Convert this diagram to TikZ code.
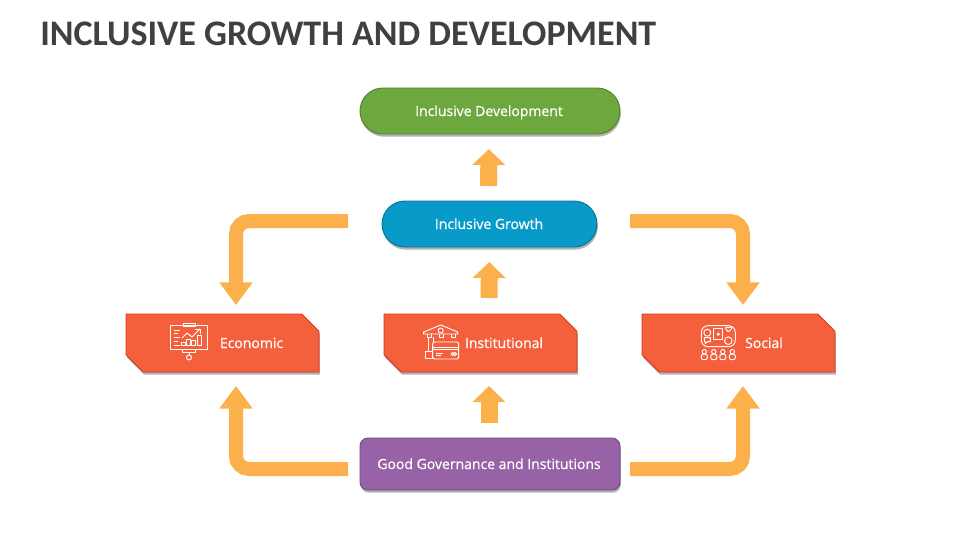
\documentclass[tikz,border=0pt]{standalone}
\usepackage{fontspec}
\setmainfont{Open Sans}
\newfontfamily\titlefont{Carlito}
\newfontfamily\labelfont[FakeBold=0.7]{Open Sans}
\usetikzlibrary{arrows.meta,shapes.misc,shadows}
\definecolor{arroworange}{HTML}{FBB04B}
\definecolor{devgreen}{HTML}{6DA83F}
\definecolor{growthblue}{HTML}{089BC9}
\definecolor{pillarred}{HTML}{F4603C}
\definecolor{pillaredge}{HTML}{D9381E}
\definecolor{govpurple}{HTML}{9763A6}
\tikzset{
    softshadow/.style={drop shadow={shadow xshift=0.6pt, shadow yshift=-2pt, opacity=0.3, fill=black}},
    pillbox/.style={rounded rectangle, draw=#1!75!black, fill=#1, line width=0.7pt, softshadow, minimum height=34.5pt, inner sep=0pt, outer sep=0pt},
    pillarbox/.style={rectangle, minimum width=144.75pt, minimum height=43.5pt, inner sep=0pt, outer sep=0pt},
    pillarface/.style={draw=pillaredge, fill=pillarred, line width=0.7pt, line join=miter, softshadow},
    govbox/.style={rectangle, rounded corners=6pt, draw=govpurple!75!black, fill=govpurple, line width=0.7pt, softshadow, minimum width=195pt, minimum height=39pt, inner sep=0pt, outer sep=0pt},
    boxtext/.style={text=white, font=\labelfont\fontsize{10.5}{12}\selectfont, inner sep=0pt, text height=8pt, text depth=2pt},
    upshaft/.style={draw=arroworange, line width=12.75pt, -{Triangle[width=24pt,length=12pt]}},
    bendshaft/.style={draw=arroworange, line width=10.5pt, rounded corners=9.75pt, -{Triangle[width=24pt,length=17pt]}},
    iconline/.style={draw=white, line width=0.7pt, line join=round},
}
\newcommand{\pillarshape}[1]{
    \path[pillarface] (#1.north west) -- ([xshift=-13pt]#1.north east) -- ([yshift=-13pt]#1.north east)
        -- (#1.south east) -- ([xshift=13pt]#1.south west) -- ([yshift=13pt]#1.south west) -- cycle;
}
\newcommand{\economicicon}[1]{
    \begin{scope}[shift={#1}, iconline]
        \draw (-18.5,-15) rectangle (18.5,9);
        \draw (-6,-16.5) rectangle (6,-14);
        \draw (-6.5,9) rectangle (6.5,12);
        \draw (0,12) -- (0,15);
        \draw (0,17.5) circle [radius=2.5];
        \foreach\y/\l in {-10/6, -7/4, -3/6, 1/4, 5/6} {
            \draw (-15,\y) -- ++(\l,0);
        }
        \draw (-7,-2) -- (-2,-7) -- (3,-3) -- (11,-11);
        \draw (6,-11) -- (11,-11) -- (11,-6);
        \foreach\x/\t in {-8/2, -3/-1, 2/0, 8/-5} {
            \draw (\x,5) rectangle ++(4,\t-5);
        }
    \end{scope}
}
\newcommand{\institutionicon}[1]{
    \begin{scope}[shift={#1}, iconline]
        \draw (-17,-10) -- (0,-17) -- (17,-10) -- (17,-8) -- (-17,-8) -- cycle;
        \draw (0,-11.5) circle [radius=2.5];
        \foreach\x in {-13,-1,11} {
            \draw (\x,-8) -- (\x,-5) -- ++(4,0) -- ++(0,-3);
        }
        \draw (-12,-5) -- (-12,9) (-7,-5) -- (-7,0);
        \draw (-15,9) rectangle (-8,16);
        \draw[rounded corners=1.5pt] (-8,0) rectangle (18,17);
        \draw (-8,5) -- (18,5) (-8,7) -- (18,7);
        \draw (-5,11) -- (2,11) (-5,13) -- (0,13);
        \draw (12,12) circle [radius=1.6] (14.5,12) circle [radius=1.6];
    \end{scope}
}
\newcommand{\socialicon}[1]{
    \begin{scope}[shift={#1}, iconline]
        \draw[rounded corners=5pt] (-17,-17) rectangle (17,4);
        \draw (-5,-14) rectangle (4.5,-3);
        \draw (0,-8.5) circle [radius=1.2];
        \draw (-11,-10) circle [radius=3.5];
        \draw (10,-2) circle [radius=3.8];
        \draw (10,-11) .. controls (6,-14) and (7,-17) .. (10,-15) .. controls (14,-17) and (15,-14) .. (10,-11);
        \draw (-14,-5) -- (-8,-5) -- (-8,-1) -- (-11,-1) -- (-13,1) -- (-13,-1) -- (-14,-1) -- cycle;
        \foreach\x in {-14,-4.5,4.5,14} {
            \draw (\x,9) circle [radius=2.2];
            \draw[rounded corners=1.5pt] (\x-3,17) -- (\x-3,11.5) -- (\x+3,11.5) -- (\x+3,17) -- cycle;
        }
    \end{scope}
}
\begin{document}
\begin{tikzpicture}[x=0.75pt, y=-0.75pt]
    \useasboundingbox (0,0) rectangle (960,540);

    % Title
    \node[anchor=west, inner sep=0pt, text=black!75, font=\titlefont\fontsize{27}{30}\selectfont\bfseries] (title) at (40,34) {INCLUSIVE GROWTH AND DEVELOPMENT};

    % Boxes
    \node[pillbox=devgreen, minimum width=195pt] (devel) at (490,111) {};
    \node[pillbox=growthblue, minimum width=161.25pt] (growth) at (489.5,224) {};
    \node[pillarbox] (econ) at (222.5,343) {};
    \node[pillarbox] (inst) at (480.5,343) {};
    \node[pillarbox] (social) at (738.5,343) {};
    \pillarshape{econ}
    \pillarshape{inst}
    \pillarshape{social}
    \node[govbox] (gov) at (490,464) {};

    % Box texts
    \node[boxtext] (develtext) at (489,112) {Inclusive Development};
    \node[boxtext] (growthtext) at (489,225) {Inclusive Growth};
    \node[boxtext] (econtext) at (251.5,344) {Economic};
    \node[boxtext] (insttext) at (504,344) {Institutional};
    \node[boxtext] (socialtext) at (764,344) {Social};
    \node[boxtext] (govtext) at (489,465) {Good Governance and Institutions};

    % Icons
    \economicicon{(189,340)}
    \institutionicon{(440.7,342)}
    \socialicon{(718.3,342.7)}

    % Straight arrows
    \draw[upshaft] ([shift={(-1,-15)}]growth.north) -- ([shift={(-1,15)}]devel.south);
    \draw[upshaft] ([shift={(8.5,-16)}]inst.north) -- ([shift={(0,15)}]growth.south);
    \draw[upshaft] ([shift={(-1,-15)}]gov.north) -- ([shift={(8.5,14)}]inst.south);

    % Bent arrows
    \draw[bendshaft] ([shift={(-34,-3)}]growth.west) -| ([shift={(13.5,-9)}]econ.north);
    \draw[bendshaft] ([shift={(33,-3)}]growth.east) -| ([shift={(4.5,-9)}]social.north);
    \draw[bendshaft] ([shift={(-12,5)}]gov.west) -| ([shift={(13.5,14)}]econ.south);
    \draw[bendshaft] ([shift={(10,5)}]gov.east) -| ([shift={(4.5,14)}]social.south);
\end{tikzpicture}
\end{document}
